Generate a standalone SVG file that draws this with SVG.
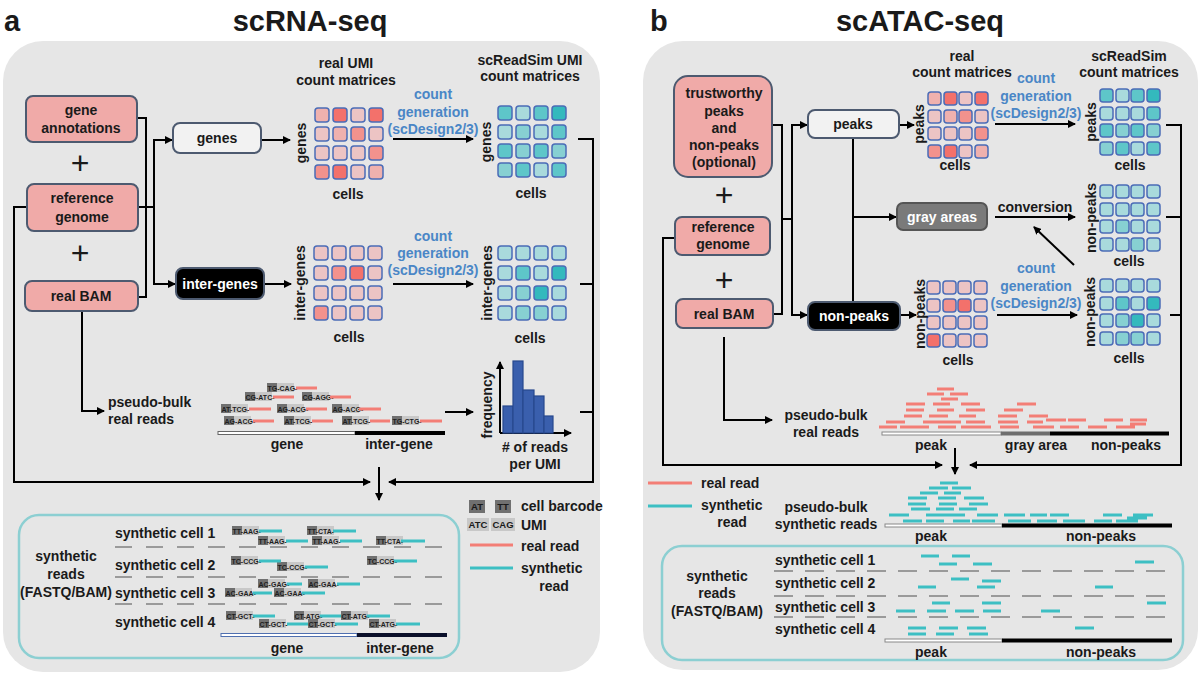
<svg xmlns="http://www.w3.org/2000/svg" xmlns:xlink="http://www.w3.org/1999/xlink" width="1200" height="677" viewBox="0 0 1200 677">
<style>
.t{font-family:"Liberation Sans",Arial,sans-serif;font-weight:700;font-size:14px;fill:#1a1a1a}
.m{text-anchor:middle}
.w{fill:#fff}
.bl{fill:#4a86c6}
.tt{font-size:29px}
.pl{font-weight:400;font-size:32px}
.tg{font-size:7px;fill:#1e1e1e}
.lg{font-size:9.5px}
.box{fill:#f0aaa8;stroke:#4d5a70;stroke-width:2}
.wb{fill:#f2f2f2;stroke:#4d5a70;stroke-width:2}
.kb{fill:#000;stroke:#4d5a70;stroke-width:2}
.gb{fill:#7a7a7a;stroke:#555;stroke-width:2}
.panel{fill:#e6e6e6}
.ln{fill:none;stroke:#000;stroke-width:2}
.ar{marker-end:url(#ah)}
.mx use{stroke:#4b6cb7;stroke-width:1.5}
.p0{fill:#ecc4c4}.p1{fill:#efb1ae}.p2{fill:#f2928d}.p3{fill:#f3716b}
.q0{fill:#a9dadc}.q1{fill:#87d0d2}.q2{fill:#5ec6c9}.q3{fill:#34b9bd}
.rr{fill:none;stroke:#f37e76;stroke-width:3}
.sr{fill:none;stroke:#3dbfc3;stroke-width:3}
.dl{fill:none;stroke:#9a9a9a;stroke-width:2}
.bc{fill:#707070}
.um{fill:#c8c8c8}
.sb{fill:none;stroke:#8ccfd2;stroke-width:2.5}
.hb{fill:#3a5fad;stroke:#27488e;stroke-width:1.2}
</style>
<defs>
<marker id="ah" viewBox="0 0 8 8" refX="7" refY="4" markerWidth="4" markerHeight="4" orient="auto"><path d="M0,0L8,4L0,8z" fill="#000"/></marker>
<rect id="c" width="14" height="14" rx="3"/>
<rect id="s" width="13" height="13" rx="3"/>
<g id="tb"><rect class="bc" x="0" y="-5" width="10" height="9"/><rect class="um" x="10" y="-5" width="17" height="9"/></g>
</defs>

<!-- panels -->
<rect class="panel" x="3" y="41" width="597" height="631" rx="40"/>
<rect class="panel" x="643" y="41" width="555" height="629" rx="40"/>
<text class="t tt" x="4" y="31">a</text>
<text class="t tt m" x="310" y="31">scRNA-seq</text>
<text class="t tt" x="650" y="31">b</text>
<text class="t tt m" x="920" y="31">scATAC-seq</text>

<!-- ===== connectors ===== -->
<g id="connectors">
<path class="ln" d="M137,118H146V297H138"/>
<path class="ln" d="M138,207H154"/>
<path class="ln ar" d="M154,207V140H172"/>
<path class="ln ar" d="M154,207V284H175"/>
<path class="ln ar" d="M261,140H290"/>
<path class="ln ar" d="M264,284H291"/>
<path class="ln ar" d="M393,139H473"/>
<path class="ln ar" d="M393,284H473"/>
<path class="ln ar" d="M578,139H593V482H389"/>
<path class="ln" d="M580,284H593M580,412H593"/>
<path class="ln ar" d="M27,207H14V482H370"/>
<path class="ln ar" d="M379,467V500"/>
<path class="ln ar" d="M82,311V411H104"/>
<path class="ln ar" d="M445,412H473"/>
<path class="ln ar" d="M500,433V362"/>
<path class="ln ar" d="M500,433H571"/>

<path class="ln" d="M772,125H782V314H773"/>
<path class="ln" d="M782,219H792"/>
<path class="ln ar" d="M792,219V125H807"/>
<path class="ln ar" d="M792,219V315H807"/>
<path class="ln" d="M853,138V302"/>
<path class="ln ar" d="M853,217H896"/>
<path class="ln ar" d="M899,125H914"/>
<path class="ln ar" d="M900,315H916"/>
<path class="ln ar" d="M995,124H1075"/>
<path class="ln ar" d="M995,217H1075"/>
<path class="ln ar" d="M997,315H1077"/>
<path class="ln ar" d="M1074,265L1034,227"/>
<path class="ln ar" d="M1166,125H1181V465H970"/>
<path class="ln" d="M1166,217H1181M1170,315H1181"/>
<path class="ln ar" d="M675,238H663V465H942"/>
<path class="ln ar" d="M724,337V420H772"/>
<path class="ln ar" d="M955,448V474"/>
</g>

<!-- ===== left nodes ===== -->
<g id="gene-annotations"><rect class="box" x="26" y="96" width="111" height="46" rx="7"/><text class="t m" x="81" y="115">gene</text><text class="t m" x="81" y="133">annotations</text></g>
<text class="t pl m" x="80" y="174">+</text>
<g id="reference-genome-a"><rect class="box" x="27" y="184" width="111" height="47" rx="7"/><text class="t m" x="82" y="203">reference</text><text class="t m" x="82" y="222">genome</text></g>
<text class="t pl m" x="80" y="264">+</text>
<g id="real-bam-a"><rect class="box" x="25" y="281" width="113" height="30" rx="7"/><text class="t m" x="81" y="301">real BAM</text></g>
<g id="genes"><rect class="wb" x="173" y="123" width="88" height="30" rx="7"/><text class="t m" x="217" y="143">genes</text></g>
<g id="inter-genes"><rect class="kb" x="176" y="268" width="88" height="31" rx="7"/><text class="t m w" x="220" y="289">inter-genes</text></g>

<!-- headings left -->
<text class="t m" x="346" y="68">real UMI</text>
<text class="t m" x="346" y="85">count matrices</text>
<text class="t m" x="530" y="65">scReadSim UMI</text>
<text class="t m" x="530" y="81">count matrices</text>
<text class="t m bl" x="433" y="99">count</text>
<text class="t m bl" x="433" y="117">generation</text>
<text class="t m bl" x="433" y="134">(scDesign2/3)</text>
<text class="t m bl" x="433" y="241">count</text>
<text class="t m bl" x="433" y="258">generation</text>
<text class="t m bl" x="433" y="275">(scDesign2/3)</text>

<!-- matrices left -->
<g id="real-genes-matrix" class="mx">
<use href="#c" x="315" y="108" class="p1"/><use href="#c" x="333" y="108" class="p3"/><use href="#c" x="351" y="108" class="p0"/><use href="#c" x="369" y="108" class="p3"/>
<use href="#c" x="315" y="127" class="p0"/><use href="#c" x="333" y="127" class="p1"/><use href="#c" x="351" y="127" class="p2"/><use href="#c" x="369" y="127" class="p0"/>
<use href="#c" x="315" y="146" class="p0"/><use href="#c" x="333" y="146" class="p0"/><use href="#c" x="351" y="146" class="p0"/><use href="#c" x="369" y="146" class="p2"/>
<use href="#c" x="315" y="165" class="p2"/><use href="#c" x="333" y="165" class="p3"/><use href="#c" x="351" y="165" class="p0"/><use href="#c" x="369" y="165" class="p1"/>
</g>
<text class="t m" transform="translate(306,143) rotate(-90)">genes</text>
<text class="t m" x="348" y="199">cells</text>
<g id="sim-genes-matrix" class="mx">
<use href="#c" x="498" y="106" class="q2"/><use href="#c" x="516" y="106" class="q0"/><use href="#c" x="534" y="106" class="q2"/><use href="#c" x="552" y="106" class="q3"/>
<use href="#c" x="498" y="125" class="q0"/><use href="#c" x="516" y="125" class="q1"/><use href="#c" x="534" y="125" class="q0"/><use href="#c" x="552" y="125" class="q2"/>
<use href="#c" x="498" y="144" class="q2"/><use href="#c" x="516" y="144" class="q1"/><use href="#c" x="534" y="144" class="q2"/><use href="#c" x="552" y="144" class="q1"/>
<use href="#c" x="498" y="163" class="q1"/><use href="#c" x="516" y="163" class="q2"/><use href="#c" x="534" y="163" class="q0"/><use href="#c" x="552" y="163" class="q2"/>
</g>
<text class="t m" transform="translate(491,142) rotate(-90)">genes</text>
<text class="t m" x="531" y="198">cells</text>

<g id="real-inter-matrix" class="mx">
<use href="#c" x="314" y="246" class="p0"/><use href="#c" x="332" y="246" class="p0"/><use href="#c" x="350" y="246" class="p0"/><use href="#c" x="368" y="246" class="p0"/>
<use href="#c" x="314" y="266" class="p0"/><use href="#c" x="332" y="266" class="p2"/><use href="#c" x="350" y="266" class="p3"/><use href="#c" x="368" y="266" class="p0"/>
<use href="#c" x="314" y="286" class="p0"/><use href="#c" x="332" y="286" class="p0"/><use href="#c" x="350" y="286" class="p0"/><use href="#c" x="368" y="286" class="p0"/>
<use href="#c" x="314" y="306" class="p2"/><use href="#c" x="332" y="306" class="p0"/><use href="#c" x="350" y="306" class="p0"/><use href="#c" x="368" y="306" class="p0"/>
</g>
<text class="t m" transform="translate(305,283) rotate(-90)">inter-genes</text>
<text class="t m" x="349" y="342">cells</text>
<g id="sim-inter-matrix" class="mx">
<use href="#c" x="498" y="246" class="q0"/><use href="#c" x="516" y="246" class="q0"/><use href="#c" x="534" y="246" class="q0"/><use href="#c" x="552" y="246" class="q0"/>
<use href="#c" x="498" y="266" class="q0"/><use href="#c" x="516" y="266" class="q2"/><use href="#c" x="534" y="266" class="q0"/><use href="#c" x="552" y="266" class="q3"/>
<use href="#c" x="498" y="286" class="q0"/><use href="#c" x="516" y="286" class="q1"/><use href="#c" x="534" y="286" class="q3"/><use href="#c" x="552" y="286" class="q0"/>
<use href="#c" x="498" y="306" class="q0"/><use href="#c" x="516" y="306" class="q1"/><use href="#c" x="534" y="306" class="q1"/><use href="#c" x="552" y="306" class="q0"/>
</g>
<text class="t m" transform="translate(492,283) rotate(-90)">inter-genes</text>
<text class="t m" x="530" y="343">cells</text>

<!-- pseudo-bulk left -->
<text class="t" x="108" y="407">pseudo-bulk</text>
<text class="t" x="108" y="424">real reads</text>
<g id="bulk-reads-a">
<use href="#tb" x="267" y="388"/><text class="t tg" x="267.5" y="390.5">TG-CAG-</text>
<use href="#tb" x="245" y="397"/><text class="t tg" x="245.5" y="399.5">CG-ATC-</text>
<use href="#tb" x="302" y="397"/><text class="t tg" x="302.5" y="399.5">CG-AGG-</text>
<use href="#tb" x="221" y="409"/><text class="t tg" x="221.5" y="411.5">AT-TCG-</text>
<use href="#tb" x="277" y="409"/><text class="t tg" x="277.5" y="411.5">AG-ACG-</text>
<use href="#tb" x="332" y="409"/><text class="t tg" x="332.5" y="411.5">AG-ACG-</text>
<use href="#tb" x="224" y="421"/><text class="t tg" x="224.5" y="423.5">AG-ACG-</text>
<use href="#tb" x="284" y="421"/><text class="t tg" x="284.5" y="423.5">AT-TCG-</text>
<use href="#tb" x="342" y="421"/><text class="t tg" x="342.5" y="423.5">AT-TCG-</text>
<use href="#tb" x="392" y="421"/><text class="t tg" x="392.5" y="423.5">TG-CTG-</text>
<path class="rr" d="M296,388H317M273,397H294M330,397H351M249,409H271M306,409H327M359,409H381M253,421H274M312,421H333M370,421H390M420,421H442"/>
</g>
<rect x="218" y="431.5" width="137" height="3" fill="#fff" stroke="#666" stroke-width="1"/>
<rect x="355" y="431" width="90" height="4" fill="#000"/>
<text class="t m" x="287" y="449">gene</text>
<text class="t m" x="399" y="449">inter-gene</text>

<!-- histogram -->
<g id="histogram">
<rect class="hb" x="503" y="406" width="10" height="27"/>
<rect class="hb" x="513" y="361" width="10" height="72"/>
<rect class="hb" x="523" y="390" width="11" height="43"/>
<rect class="hb" x="534" y="396" width="10" height="37"/>
<rect class="hb" x="544" y="416" width="9" height="17"/>
</g>
<text class="t m" transform="translate(492,405) rotate(-90)">frequency</text>
<text class="t m" x="535" y="452"># of reads</text>
<text class="t m" x="535" y="469">per UMI</text>

<!-- legend left -->
<rect class="bc" x="469" y="500" width="16" height="13"/><text class="t lg m" x="477" y="510">AT</text>
<rect class="bc" x="495" y="500" width="16" height="13"/><text class="t lg m" x="503" y="510">TT</text>
<text class="t" x="521" y="511">cell barcode</text>
<rect class="um" x="467" y="518" width="22" height="13"/><text class="t lg m" x="478" y="528">ATC</text>
<rect class="um" x="491" y="518" width="24" height="13"/><text class="t lg m" x="503" y="528">CAG</text>
<text class="t" x="521" y="530">UMI</text>
<path class="rr" d="M470,545H513"/><text class="t" x="521" y="551">real read</text>
<path class="sr" d="M470,568H513"/><text class="t" x="521" y="573">synthetic</text>
<text class="t m" x="554" y="591">read</text>

<!-- synthetic box left -->
<g id="synthetic-reads-a">
<rect class="sb" x="19" y="515" width="440" height="143" rx="20"/>
<text class="t m" x="66" y="561">synthetic</text>
<text class="t m" x="66" y="579">reads</text>
<text class="t m" x="66" y="597">(FASTQ/BAM)</text>
<text class="t" x="115" y="538">synthetic cell 1</text>
<text class="t" x="115" y="570">synthetic cell 2</text>
<text class="t" x="115" y="598">synthetic cell 3</text>
<text class="t" x="115" y="627">synthetic cell 4</text>
<path class="dl" stroke-dasharray="17 14" d="M115,547H451M115,577H451M115,604H451"/>
<use href="#tb" x="232" y="531"/><text class="t tg" x="232.5" y="533.5">TT-AAG-</text>
<use href="#tb" x="307" y="531"/><text class="t tg" x="307.5" y="533.5">TT-CTA-</text>
<use href="#tb" x="258" y="541"/><text class="t tg" x="258.5" y="543.5">TT-AAG-</text>
<use href="#tb" x="312" y="541"/><text class="t tg" x="312.5" y="543.5">TT-AAG-</text>
<use href="#tb" x="376" y="541"/><text class="t tg" x="376.5" y="543.5">TT-CTA-</text>
<use href="#tb" x="231" y="561"/><text class="t tg" x="231.5" y="563.5">TC-CCG-</text>
<use href="#tb" x="367" y="561"/><text class="t tg" x="367.5" y="563.5">TC-CCG-</text>
<use href="#tb" x="277" y="567"/><text class="t tg" x="277.5" y="569.5">TC-CCG-</text>
<use href="#tb" x="258" y="584"/><text class="t tg" x="258.5" y="586.5">AC-GAG-</text>
<use href="#tb" x="308" y="584"/><text class="t tg" x="308.5" y="586.5">AC-GAA-</text>
<use href="#tb" x="225" y="593"/><text class="t tg" x="225.5" y="595.5">AC-GAA-</text>
<use href="#tb" x="274" y="593"/><text class="t tg" x="274.5" y="595.5">AC-GAA-</text>
<use href="#tb" x="226" y="616"/><text class="t tg" x="226.5" y="618.5">CT-GCT-</text>
<use href="#tb" x="294" y="616"/><text class="t tg" x="294.5" y="618.5">CT-ATG-</text>
<use href="#tb" x="341" y="616"/><text class="t tg" x="341.5" y="618.5">CT-ATG-</text>
<use href="#tb" x="259" y="624"/><text class="t tg" x="259.5" y="626.5">CT-GCT-</text>
<use href="#tb" x="308" y="624"/><text class="t tg" x="308.5" y="626.5">CT-GCT-</text>
<use href="#tb" x="369" y="624"/><text class="t tg" x="369.5" y="626.5">CT-ATG-</text>
<path class="sr" d="M259,531H282M333,531H356M286,541H308M340,541H362M401,541H425M259,561H281M394,561H417M305,567H328M287,584H302M337,584H360M253,593H272M302,593H325M253,616H275M320,616H341M367,616H390M287,624H308M335,624H358M396,624H420"/>
<rect x="221" y="633.5" width="136" height="3" fill="#fff" stroke="#5070b0" stroke-width="1"/>
<rect x="357" y="633" width="90" height="4" fill="#0a0f2a"/>
<text class="t m" x="287" y="653">gene</text>
<text class="t m" x="400" y="653">inter-gene</text>
</g>

<!-- ===== right nodes ===== -->
<g id="trustworthy"><rect class="box" x="674" y="76" width="98" height="101" rx="14"/>
<text class="t m" x="724" y="98">trustworthy</text><text class="t m" x="724" y="116">peaks</text><text class="t m" x="724" y="133">and</text><text class="t m" x="724" y="150">non-peaks</text><text class="t m" x="724" y="167">(optional)</text></g>
<text class="t pl m" x="724" y="206">+</text>
<g id="reference-genome-b"><rect class="box" x="675" y="217" width="95" height="38" rx="7"/><text class="t m" x="723" y="232">reference</text><text class="t m" x="723" y="249">genome</text></g>
<text class="t pl m" x="724" y="291">+</text>
<g id="real-bam-b"><rect class="box" x="676" y="299" width="97" height="29" rx="7"/><text class="t m" x="724" y="319">real BAM</text></g>
<g id="peaks"><rect class="wb" x="808" y="110" width="91" height="28" rx="7"/><text class="t m" x="853" y="129">peaks</text></g>
<g id="non-peaks"><rect class="kb" x="808" y="302" width="92" height="28" rx="7"/><text class="t m w" x="854" y="321">non-peaks</text></g>
<g id="gray-areas"><rect class="gb" x="897" y="203" width="90" height="27" rx="6"/><text class="t m w" x="942" y="222">gray areas</text></g>

<!-- right headings -->
<text class="t m" x="962" y="61">real</text>
<text class="t m" x="962" y="77">count matrices</text>
<text class="t m" x="1129" y="61">scReadSim</text>
<text class="t m" x="1129" y="77">count matrices</text>
<text class="t m bl" x="1036" y="83">count</text>
<text class="t m bl" x="1036" y="101">generation</text>
<text class="t m bl" x="1036" y="118">(scDesign2/3)</text>
<text class="t m" x="1035" y="212">conversion</text>
<text class="t m bl" x="1036" y="273">count</text>
<text class="t m bl" x="1036" y="291">generation</text>
<text class="t m bl" x="1036" y="308">(scDesign2/3)</text>

<!-- right matrices -->
<g id="real-peaks-matrix" class="mx">
<use href="#s" x="928" y="92" class="p1"/><use href="#s" x="944" y="92" class="p3"/><use href="#s" x="959" y="92" class="p0"/><use href="#s" x="975" y="92" class="p3"/>
<use href="#s" x="928" y="110" class="p0"/><use href="#s" x="944" y="110" class="p1"/><use href="#s" x="959" y="110" class="p2"/><use href="#s" x="975" y="110" class="p0"/>
<use href="#s" x="928" y="127" class="p0"/><use href="#s" x="944" y="127" class="p0"/><use href="#s" x="959" y="127" class="p0"/><use href="#s" x="975" y="127" class="p2"/>
<use href="#s" x="928" y="145" class="p2"/><use href="#s" x="944" y="145" class="p3"/><use href="#s" x="959" y="145" class="p0"/><use href="#s" x="975" y="145" class="p1"/>
</g>
<text class="t m" transform="translate(924,124) rotate(-90)">peaks</text>
<text class="t m" x="955" y="170">cells</text>
<g id="sim-peaks-matrix" class="mx">
<use href="#s" x="1100" y="89" class="q2"/><use href="#s" x="1116" y="89" class="q0"/><use href="#s" x="1131" y="89" class="q2"/><use href="#s" x="1147" y="89" class="q3"/>
<use href="#s" x="1100" y="107" class="q0"/><use href="#s" x="1116" y="107" class="q0"/><use href="#s" x="1131" y="107" class="q0"/><use href="#s" x="1147" y="107" class="q2"/>
<use href="#s" x="1100" y="124" class="q2"/><use href="#s" x="1116" y="124" class="q1"/><use href="#s" x="1131" y="124" class="q2"/><use href="#s" x="1147" y="124" class="q1"/>
<use href="#s" x="1100" y="142" class="q1"/><use href="#s" x="1116" y="142" class="q2"/><use href="#s" x="1131" y="142" class="q0"/><use href="#s" x="1147" y="142" class="q2"/>
</g>
<text class="t m" transform="translate(1096,122) rotate(-90)">peaks</text>
<text class="t m" x="1130" y="170">cells</text>
<g id="sim-gray-matrix" class="mx">
<use href="#s" x="1100" y="185" class="q0"/><use href="#s" x="1116" y="185" class="q0"/><use href="#s" x="1131" y="185" class="q0"/><use href="#s" x="1147" y="185" class="q0"/>
<use href="#s" x="1100" y="203" class="q0"/><use href="#s" x="1116" y="203" class="q0"/><use href="#s" x="1131" y="203" class="q0"/><use href="#s" x="1147" y="203" class="q0"/>
<use href="#s" x="1100" y="220" class="q0"/><use href="#s" x="1116" y="220" class="q1"/><use href="#s" x="1131" y="220" class="q0"/><use href="#s" x="1147" y="220" class="q0"/>
<use href="#s" x="1100" y="238" class="q0"/><use href="#s" x="1116" y="238" class="q0"/><use href="#s" x="1131" y="238" class="q1"/><use href="#s" x="1147" y="238" class="q0"/>
</g>
<text class="t m" transform="translate(1096,218) rotate(-90)">non-peaks</text>
<text class="t m" x="1129" y="266">cells</text>
<g id="real-nonpeaks-matrix" class="mx">
<use href="#s" x="927" y="281" class="p0"/><use href="#s" x="943" y="281" class="p0"/><use href="#s" x="958" y="281" class="p0"/><use href="#s" x="974" y="281" class="p0"/>
<use href="#s" x="927" y="299" class="p0"/><use href="#s" x="943" y="299" class="p2"/><use href="#s" x="958" y="299" class="p3"/><use href="#s" x="974" y="299" class="p0"/>
<use href="#s" x="927" y="316" class="p0"/><use href="#s" x="943" y="316" class="p0"/><use href="#s" x="958" y="316" class="p0"/><use href="#s" x="974" y="316" class="p0"/>
<use href="#s" x="927" y="334" class="p3"/><use href="#s" x="943" y="334" class="p0"/><use href="#s" x="958" y="334" class="p0"/><use href="#s" x="974" y="334" class="p0"/>
</g>
<text class="t m" transform="translate(925,314) rotate(-90)">non-peaks</text>
<text class="t m" x="958" y="365">cells</text>
<g id="sim-nonpeaks-matrix" class="mx">
<use href="#s" x="1100" y="279" class="q0"/><use href="#s" x="1116" y="279" class="q0"/><use href="#s" x="1131" y="279" class="q0"/><use href="#s" x="1147" y="279" class="q0"/>
<use href="#s" x="1100" y="297" class="q0"/><use href="#s" x="1116" y="297" class="q2"/><use href="#s" x="1131" y="297" class="q0"/><use href="#s" x="1147" y="297" class="q3"/>
<use href="#s" x="1100" y="314" class="q0"/><use href="#s" x="1116" y="314" class="q1"/><use href="#s" x="1131" y="314" class="q3"/><use href="#s" x="1147" y="314" class="q0"/>
<use href="#s" x="1100" y="332" class="q0"/><use href="#s" x="1116" y="332" class="q1"/><use href="#s" x="1131" y="332" class="q1"/><use href="#s" x="1147" y="332" class="q0"/>
</g>
<text class="t m" transform="translate(1095,312) rotate(-90)">non-peaks</text>
<text class="t m" x="1129" y="363">cells</text>

<!-- pseudo-bulk right -->
<text class="t m" x="826" y="420">pseudo-bulk</text>
<text class="t m" x="826" y="437">real reads</text>
<path class="rr" d="M937,389H954M927,394H944M950,394H968M941,399H958M906,404H925M933,404H950M961,404H980M1017,404H1036M906,410H924M937,410H954M966,410H985M1004,410H1023M904,416H922M929,416H948M959,416H976M998,416H1017M1029,416H1048M1046,420H1066M1068,420H1086M1104,420H1123M1130,420H1147M886,422H905M923,422H961M966,422H985M998,422H1018M1027,422H1043M1130,424H1146M879,427H897M900,427H929M938,427H956M961,427H991M1000,427H1019M1033,427H1054M1060,427H1079M1088,427H1107M1116,427H1135"/>
<rect x="882" y="432" width="119" height="3" fill="#fff" stroke="#888" stroke-width="1"/>
<rect x="1001" y="431.5" width="49" height="4" fill="#6e6e6e"/>
<rect x="1050" y="431.5" width="119" height="4" fill="#000"/>
<text class="t m" x="931" y="450">peak</text>
<text class="t m" x="1036" y="450">gray area</text>
<text class="t m" x="1126" y="450">non-peaks</text>

<path class="rr" d="M648,483H692"/><text class="t" x="701" y="488">real read</text>
<path class="sr" d="M648,506H692"/><text class="t" x="701" y="510">synthetic</text>
<text class="t m" x="732" y="527">read</text>

<text class="t m" x="826" y="512">pseudo-bulk</text>
<text class="t m" x="826" y="529">synthetic reads</text>
<path class="sr" d="M940,483H958M929,488H948M952,488H971M920,493H938M944,493H961M908,498H927M938,498H956M964,498H984M908,504H926M939,504H957M969,504H988M911,509H930M936,509H954M959,509H977M889,515H909M926,515H965M977,515H998M1004,515H1025M1030,515H1047M1050,515H1069M1103,515H1122M1133,515H1153M1127,518H1147M903,521H922M926,521H944M953,521H970M972,521H995M1008,521H1031M1037,521H1057M1063,521H1085M1094,521H1112M1116,521H1138"/>
<rect x="885" y="524" width="117" height="3" fill="#fff" stroke="#888" stroke-width="1"/>
<rect x="1002" y="523.5" width="170" height="4" fill="#000"/>
<text class="t m" x="931" y="541">peak</text>
<text class="t m" x="1101" y="541">non-peaks</text>

<!-- synthetic box right -->
<g id="synthetic-reads-b">
<rect class="sb" x="662" y="546" width="521" height="114" rx="20"/>
<text class="t m" x="717" y="581">synthetic</text>
<text class="t m" x="717" y="598">reads</text>
<text class="t m" x="717" y="616">(FASTQ/BAM)</text>
<text class="t" x="775" y="565">synthetic cell 1</text>
<text class="t" x="775" y="588">synthetic cell 2</text>
<text class="t" x="775" y="612">synthetic cell 3</text>
<text class="t" x="775" y="634">synthetic cell 4</text>
<path class="dl" stroke-dasharray="19 12" d="M774,571H1172M774,596H1172M774,617H1172"/>
<path class="sr" d="M921,556H939M952,556H970M939,564H957M973,564H992M1135,562H1154M951,579H969M982,581H1001M918,587H936M977,587H995M1095,587H1113M932,603H950M982,603H1001M1147,603H1166M896,611H915M927,611H946M955,611H974M983,611H1001M1041,611H1060M908,628H926M939,628H958M967,628H986M1075,628H1094M908,634H926M936,634H954M969,634H988"/>
<rect x="885" y="639" width="117" height="3" fill="#fff" stroke="#888" stroke-width="1"/>
<rect x="1002" y="638.5" width="170" height="4" fill="#000"/>
<text class="t m" x="931" y="657">peak</text>
<text class="t m" x="1101" y="657">non-peaks</text>
</g>
</svg>
